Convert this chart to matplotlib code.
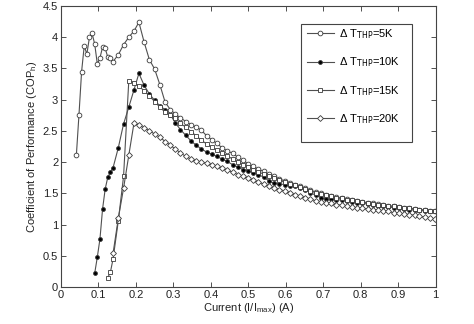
import numpy as np
import matplotlib.pyplot as plt
from matplotlib.patches import Rectangle

# current sweep (I/Imax): fine steps at low current, coarser afterwards
current = [0.041, 0.048, 0.055, 0.062, 0.069, 0.076, 0.083, 0.090, 0.097, 0.104,
           0.111, 0.118, 0.125, 0.132, 0.139,
           0.153, 0.167, 0.181, 0.195, 0.208, 0.222, 0.236, 0.250, 0.264, 0.278,
           0.292, 0.305, 0.319, 0.333, 0.347, 0.361, 0.375, 0.389, 0.402, 0.416,
           0.430, 0.444, 0.458, 0.472, 0.486, 0.500, 0.513, 0.527, 0.541, 0.555,
           0.569, 0.583, 0.597, 0.611, 0.624, 0.638, 0.652, 0.666, 0.680, 0.694,
           0.708, 0.722, 0.735, 0.749, 0.763, 0.777, 0.791, 0.805, 0.819, 0.833,
           0.846, 0.860, 0.874, 0.888, 0.902, 0.916, 0.930, 0.944, 0.957, 0.971,
           0.985, 0.999]

cop_5K = [2.11, 2.76, 3.45, 3.86, 3.73, 4.00, 4.06, 3.89, 3.57, 3.67,
          3.84, 3.82, 3.68, 3.66, 3.61,
          3.72, 3.88, 4.00, 4.10, 4.24, 3.92, 3.64, 3.49, 3.24, 2.96,
          2.84, 2.77, 2.71, 2.65, 2.60, 2.56, 2.51, 2.42, 2.36, 2.30,
          2.23, 2.18, 2.14, 2.08, 2.03, 1.97, 1.93, 1.89, 1.85, 1.81,
          1.77, 1.73, 1.70, 1.67, 1.64, 1.61, 1.58, 1.55, 1.52, 1.50,
          1.48, 1.46, 1.44, 1.42, 1.41, 1.39, 1.38, 1.36, 1.35, 1.34,
          1.33, 1.31, 1.30, 1.29, 1.28, 1.27, 1.26, 1.25, 1.24, 1.23,
          1.22, 1.21]

cop_10K = [0.22, 0.48, 0.77, 1.25, 1.57, 1.76, 1.84, 1.91,
           2.23, 2.61, 2.88, 3.16, 3.42, 3.23, 3.09, 2.99, 2.90, 2.84,
           2.76, 2.63, 2.52, 2.43, 2.34, 2.27, 2.21, 2.16, 2.13, 2.09,
           2.05, 2.01, 1.96, 1.92, 1.88, 1.86, 1.83, 1.80, 1.76, 1.70,
           1.66, 1.65, 1.64, 1.62, 1.61, 1.59, 1.56, 1.51, 1.47, 1.43,
           1.41, 1.41, 1.40, 1.39, 1.38, 1.36, 1.35, 1.34, 1.33, 1.31,
           1.30, 1.29, 1.28, 1.27, 1.26, 1.25, 1.24, 1.23, 1.23, 1.22,
           1.21, 1.21]

cop_15K = [0.15, 0.24, 0.45,
           1.06, 1.77, 3.30, 3.27, 3.22, 3.14, 3.06, 2.97, 2.88, 2.80,
           2.75, 2.70, 2.62, 2.56, 2.49, 2.42, 2.35, 2.29, 2.24, 2.19,
           2.14, 2.10, 2.05, 2.00, 1.96, 1.92, 1.88, 1.84, 1.81, 1.77,
           1.74, 1.71, 1.68, 1.65, 1.63, 1.60, 1.57, 1.54, 1.51, 1.49,
           1.47, 1.45, 1.43, 1.42, 1.40, 1.39, 1.37, 1.36, 1.35, 1.33,
           1.32, 1.31, 1.30, 1.29, 1.28, 1.27, 1.26, 1.25, 1.24, 1.23,
           1.22, 1.21]

cop_20K = [0.54,
           1.10, 1.58, 2.11, 2.63, 2.59, 2.55, 2.50, 2.45, 2.40, 2.33,
           2.27, 2.21, 2.15, 2.09, 2.05, 2.02, 2.00, 1.98, 1.96, 1.93,
           1.90, 1.87, 1.84, 1.80, 1.77, 1.74, 1.71, 1.68, 1.65, 1.62,
           1.59, 1.56, 1.54, 1.51, 1.48, 1.46, 1.43, 1.41, 1.38, 1.36,
           1.35, 1.34, 1.32, 1.31, 1.30, 1.28, 1.27, 1.26, 1.25, 1.24,
           1.23, 1.22, 1.21, 1.19, 1.18, 1.17, 1.16, 1.15, 1.13, 1.12,
           1.10, 1.09]

labels = [r'$\Delta$ T$_{\rm THP}$=5K', r'$\Delta$ T$_{\rm THP}$=10K',
          r'$\Delta$ T$_{\rm THP}$=15K', r'$\Delta$ T$_{\rm THP}$=20K']

plt.rcParams['font.family'] = ['Liberation Sans', 'DejaVu Sans']
plt.rcParams['mathtext.default'] = 'regular'

fig = plt.figure(figsize=(4.74, 3.24), dpi=100)
ax = fig.add_axes([0.1287, 0.1142, 0.7901, 0.8673])

lc = '#505050'
series = [(cop_5K, 'o', 'white'), (cop_10K, 'o', 'black'),
          (cop_15K, 's', 'white'), (cop_20K, 'D', 'white')]
for (ys, m, fc), lab in zip(series, labels):
    xs = current[len(current) - len(ys):]
    ms = 3.0 if m == 'D' else 3.4
    if fc == 'black':
        ms = 2.8
    ax.plot(xs, ys, color=lc, lw=0.8, marker=m, ms=ms, mfc=fc,
            mec='#3a3a3a', mew=0.6, label=lab)

ax.set_xlim(0, 1)
ax.set_ylim(0, 4.5)
ax.set_xticks(np.arange(0, 1.01, 0.1))
ax.set_xticklabels(['0', '0.1', '0.2', '0.3', '0.4', '0.5', '0.6', '0.7',
                    '0.8', '0.9', '1'])
ax.set_yticks(np.arange(0, 4.51, 0.5))
ax.set_yticklabels(['0', '0.5', '1', '1.5', '2', '2.5', '3', '3.5', '4', '4.5'])
ax.tick_params(direction='in', top=True, right=True, length=3.5, width=0.6,
               labelsize=8, pad=2, colors='#333333', labelcolor='#222222')
for s in ax.spines.values():
    s.set_linewidth(0.8)
    s.set_color('#444444')

ax.set_xlabel(r'Current (I/I$_{max}$) (A)', fontsize=8, labelpad=1,
              color='#222222')
ax.set_ylabel(r'Coefficient of Performance (COP$_h$)', fontsize=8,
              labelpad=3, color='#222222')

# legend box drawn separately so it can be taller than the entries
ax.add_patch(Rectangle((0.640, 0.517), 0.298, 0.420, transform=ax.transAxes,
                       facecolor='white', edgecolor='#444444', lw=0.8,
                       zorder=5))
leg = ax.legend(loc='upper left', bbox_to_anchor=(0.645, 0.94),
                frameon=False, fontsize=8, numpoints=1, handlelength=2.4,
                handletextpad=0.5, labelspacing=1.3, borderaxespad=0)
leg.set_zorder(6)

fig.savefig('out.png', dpi=100)
